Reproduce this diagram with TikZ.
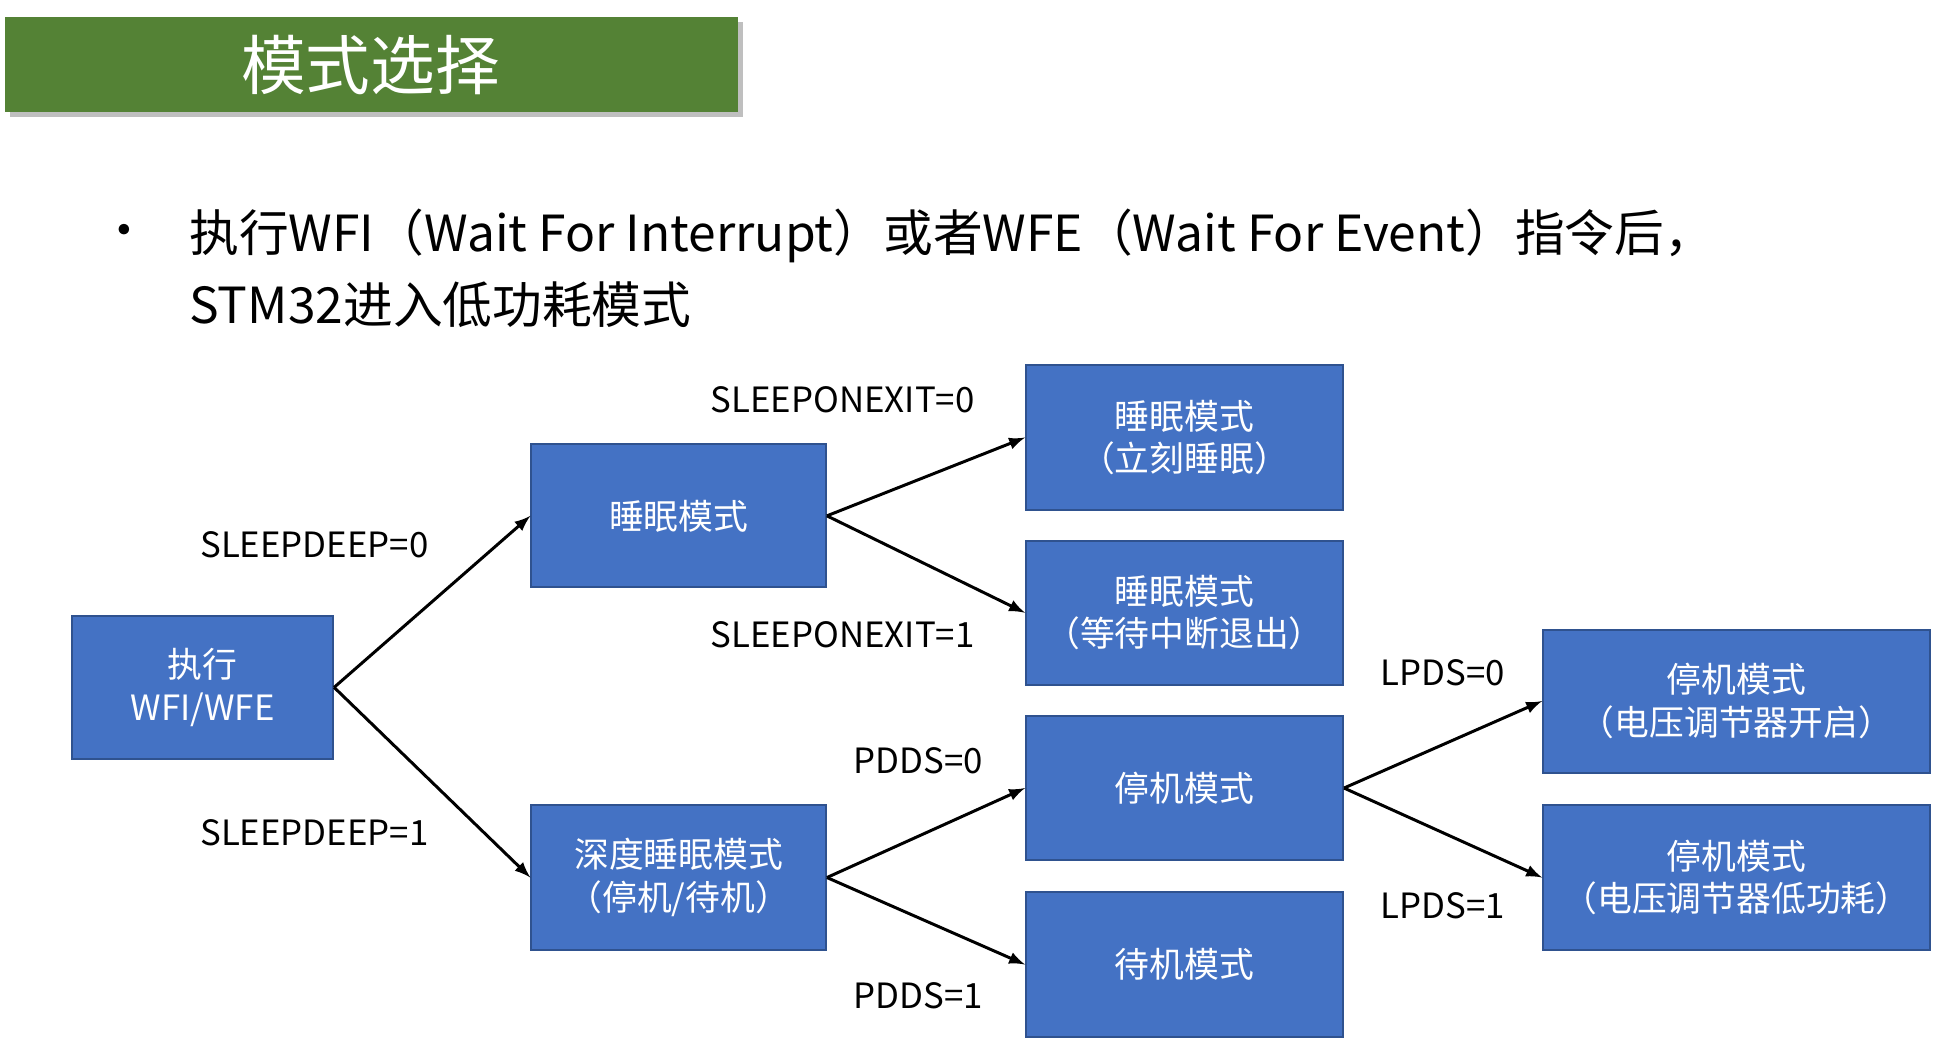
\documentclass[tikz,border=0pt]{standalone}
\usepackage{fontspec}
\setmainfont{Noto Sans CJK SC}
\usetikzlibrary{shadows}
\definecolor{boxblue}{HTML}{4472C4}
\definecolor{boxedge}{HTML}{2F528F}
\definecolor{titlegreen}{HTML}{548235}
\begin{document}
\begin{tikzpicture}[x=0.5pt,y=-0.5pt,
  modebox/.style={draw=boxedge,line width=0.8pt,fill=boxblue,text=white,font=\fontsize{14}{17}\selectfont,align=center,inner sep=0pt},
  lbl/.style={font=\fontsize{14}{17}\selectfont,inner sep=0pt},
  arr/.style={-latex,line width=1.2pt}]
\useasboundingbox (0,0) rectangle (1560,837);
\fill[gray!50] (8,18) rectangle (598,94);
\node[fill=titlegreen,minimum width=295pt,minimum height=38pt,inner sep=0pt] (title) at (299,52) {};
\node[text=white,font=\fontsize{26}{30}\selectfont] (tt) at (298,52) {模式选择};
\node[font=\fontsize{20}{24}\selectfont] (bul) at (100,190) {•};
\node[anchor=west,font=\fontsize{20}{26}\selectfont,inner sep=0pt] (l1) at (152,190) {执行WFI（Wait For Interrupt）或者WFE（Wait For Event）指令后，};
\node[anchor=west,font=\fontsize{20}{26}\selectfont,inner sep=0pt] (l2) at (152,245) {STM32进入低功耗模式};
\node[modebox,minimum width=105pt,minimum height=57.5pt] (ex) at (163,553) {执行\\WFI/WFE};
\node[modebox,minimum width=118.5pt,minimum height=57.5pt] (sl) at (546,415) {睡眠模式};
\node[modebox,minimum width=118.5pt,minimum height=58pt] (dp) at (546,706) {深度睡眠模式\\（停机/待机）};
\node[modebox,minimum width=127.5pt,minimum height=58pt] (b1) at (953,352) {睡眠模式\\（立刻睡眠）};
\node[modebox,minimum width=127.5pt,minimum height=58pt] (b2) at (953,493) {睡眠模式\\（等待中断退出）};
\node[modebox,minimum width=127.5pt,minimum height=58pt] (b3) at (953,634) {停机模式};
\node[modebox,minimum width=127.5pt,minimum height=58pt] (b4) at (953,776) {待机模式};
\node[modebox,minimum width=155.5pt,minimum height=57.5pt] (b5) at (1397,564) {停机模式\\（电压调节器开启）};
\node[modebox,minimum width=155.5pt,minimum height=58pt] (b6) at (1397,706) {停机模式\\（电压调节器低功耗）};
\node[lbl] (t1) at (678,322) {SLEEPONEXIT=0};
\node[lbl] (t2) at (678,511) {SLEEPONEXIT=1};
\node[lbl] (t3) at (253,438) {SLEEPDEEP=0};
\node[lbl] (t4) at (253,670) {SLEEPDEEP=1};
\node[lbl] (t5) at (739,612) {PDDS=0};
\node[lbl] (t6) at (739,801) {PDDS=1};
\node[lbl] (t7) at (1161,541) {LPDS=0};
\node[lbl] (t8) at (1161,729) {LPDS=1};
\draw[arr] (ex.east) -- (sl.west);
\draw[arr] (ex.east) -- (dp.west);
\draw[arr] (sl.east) -- (b1.west);
\draw[arr] (sl.east) -- (b2.west);
\draw[arr] (dp.east) -- (b3.west);
\draw[arr] (dp.east) -- (b4.west);
\draw[arr] (b3.east) -- (b5.west);
\draw[arr] (b3.east) -- (b6.west);
\end{tikzpicture}
\end{document}
